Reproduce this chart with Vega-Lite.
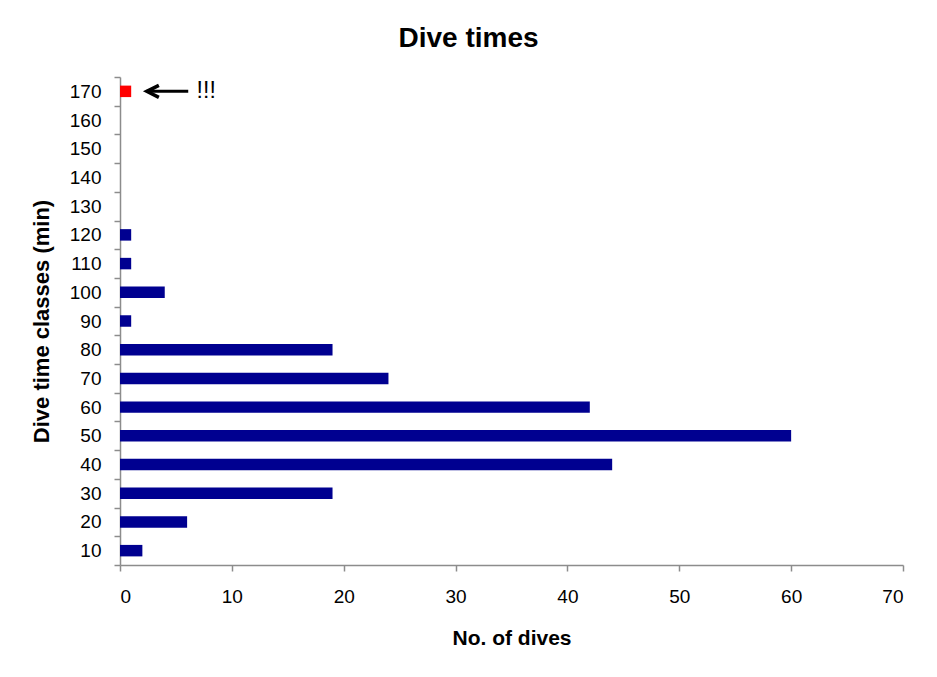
{
  "$schema": "https://vega.github.io/schema/vega-lite/v6.json",
  "autosize": "none",
  "width": 783,
  "height": 488,
  "padding": {"left": 120, "top": 77, "right": 34, "bottom": 112},
  "background": "white",
  "config": {"view": {"stroke": null}, "font": "Liberation Sans"},
  "title": {"text": "Dive times", "fontSize": 28, "fontWeight": "bold", "font": "Liberation Sans", "color": "black", "anchor": "middle", "dx": -43, "offset": 15},
  "datasets": {
    "dives": [
      {"cls": 10, "n": 2, "flag": "normal"},
      {"cls": 20, "n": 6, "flag": "normal"},
      {"cls": 30, "n": 19, "flag": "normal"},
      {"cls": 40, "n": 44, "flag": "normal"},
      {"cls": 50, "n": 60, "flag": "normal"},
      {"cls": 60, "n": 42, "flag": "normal"},
      {"cls": 70, "n": 24, "flag": "normal"},
      {"cls": 80, "n": 19, "flag": "normal"},
      {"cls": 90, "n": 1, "flag": "normal"},
      {"cls": 100, "n": 4, "flag": "normal"},
      {"cls": 110, "n": 1, "flag": "normal"},
      {"cls": 120, "n": 1, "flag": "normal"},
      {"cls": 130, "n": 0, "flag": "normal"},
      {"cls": 140, "n": 0, "flag": "normal"},
      {"cls": 150, "n": 0, "flag": "normal"},
      {"cls": 160, "n": 0, "flag": "normal"},
      {"cls": 170, "n": 1, "flag": "outlier"}
    ],
    "note": [
      {"cls": 170, "x1": 2.4, "x2": 6.1, "tx": 6.85, "label": "!!!"}
    ]
  },
  "layer": [
    {
      "data": {"name": "dives"},
      "mark": {"type": "bar", "height": {"band": 0.4}},
      "encoding": {
        "y": {
          "field": "cls", "type": "ordinal", "sort": "descending",
          "scale": {"paddingInner": 0, "paddingOuter": 0},
          "axis": {
            "title": "Dive time classes (min)", "titleFontSize": 22, "titleFontWeight": "bold", "titleColor": "black",
            "titlePadding": 16, "labelFontSize": 19, "labelColor": "black", "labelPadding": 13,
            "domainColor": "#8c8c8c", "tickColor": "#8c8c8c", "tickSize": 6, "tickBand": "extent",
            "domainWidth": 1.5, "tickWidth": 1.5, "labelAngle": 0
          }
        },
        "x": {
          "field": "n", "type": "quantitative",
          "scale": {"domain": [0, 70], "nice": false},
          "axis": {
            "title": "No. of dives", "titleFontSize": 21, "titleFontWeight": "bold", "titleColor": "black",
            "titlePadding": 21, "labelFontSize": 19, "labelColor": "black", "labelPadding": 16,
            "domainColor": "#8c8c8c", "tickColor": "#8c8c8c", "tickSize": 6, "grid": false,
            "values": [0, 10, 20, 30, 40, 50, 60, 70], "domainWidth": 1.5, "tickWidth": 1.5
          }
        },
        "color": {
          "field": "flag", "type": "nominal",
          "scale": {"domain": ["normal", "outlier"], "range": ["#000090", "#ff0000"]},
          "legend": null
        }
      }
    },
    {
      "data": {"name": "note"},
      "mark": {"type": "rule", "color": "black", "strokeWidth": 3},
      "encoding": {
        "y": {"field": "cls", "type": "ordinal", "sort": "descending", "band": 0.5},
        "x": {"field": "x1", "type": "quantitative"},
        "x2": {"field": "x2"}
      }
    },
    {
      "data": {"name": "note"},
      "mark": {"type": "point", "shape": "M 2 -1 L 0 0 L 2 1", "filled": false, "stroke": "black", "strokeWidth": 3.5, "size": 144, "opacity": 1, "strokeJoin": "miter"},
      "encoding": {
        "y": {"field": "cls", "type": "ordinal", "sort": "descending"},
        "x": {"field": "x1", "type": "quantitative"}
      }
    },
    {
      "data": {"name": "note"},
      "mark": {"type": "text", "align": "left", "baseline": "middle", "fontSize": 23, "color": "black", "font": "Liberation Sans"},
      "encoding": {
        "y": {"field": "cls", "type": "ordinal", "sort": "descending"},
        "x": {"field": "tx", "type": "quantitative"},
        "text": {"field": "label"}
      }
    }
  ]
}
